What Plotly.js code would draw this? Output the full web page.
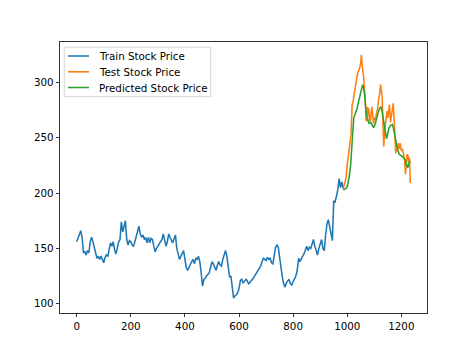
<!DOCTYPE html>
<html>
<head>
<meta charset="utf-8">
<script src="https://cdn.plot.ly/plotly-3.0.1.min.js"></script>
<style>html,body{margin:0;padding:0;background:#fff;}#chart{width:474px;height:352px;}</style>
</head>
<body>
<div id="chart"></div>
<script>
// Train series: values every 5 days from day 0 to 985
const trainStep = 5;
const trainValues = [
156,159,162,166,160,146,147,144,148,146,156,160,156,151,146,141,143,140,143,139,
137,142,144,143,150,155,152,156,149,145,150,156,158,174,165,170,175,158,153,157,
156,153,152,156,160,165,170,163,160,162,158,160,155,160,155,159,158,152,147,150,
152,154,155,158,163,157,152,156,163,160,158,155,159,162,150,145,140,143,146,148,
140,133,130,133,136,138,140,136,141,140,143,138,128,116,122,123,125,127,128,133,
138,136,132,130,135,138,135,134,140,145,148,143,130,124,125,115,105,107,108,110,
114,121,122,119,120,122,121,118,119,121,122,124,126,128,130,133,134,138,141,140,
139,142,140,141,137,136,145,151,153,151,142,132,124,118,115,119,121,122,118,117,
120,122,125,130,141,138,141,143,145,149,152,148,151,150,155,158,152,148,144,150,
155,158,150,148,162,172,176,170,166,157,193,192,197,203,213,205,210,204
];
const trainDays = trainValues.map((_, i) => i * trainStep);

const testDays = [985,990,995,1000,1005,1010,1014,1018,1022,1026,1030,1034,1038,1042,1046,1050,1052,1055,1058,1061,1064,1067,1070,1073,1076,1079,1082,1085,1088,1091,1094,1097,1100,1104,1108,1112,1116,1120,1123,1126,1129,1132,1135,1138,1141,1144,1147,1150,1153,1156,1160,1164,1167,1170,1173,1176,1179,1182,1185,1188,1192,1196,1200,1204,1208,1212,1215,1218,1221,1224,1227,1230,1233];
const testValues = [204,209,213,226,237,246,253,280,283,290,298,302,308,310,313,318,325,316,311,304,292,283,265,278,270,277,266,265,272,278,270,263,268,266,272,276,285,290,298,292,287,262,242,255,262,270,274,268,277,280,264,270,276,281,268,252,236,240,238,245,240,245,238,240,236,230,217,230,235,234,228,232,209];

const predDays = [985,995,1000,1006,1012,1018,1024,1030,1036,1042,1049,1054,1057,1061,1064,1068,1071,1076,1080,1086,1092,1098,1104,1110,1116,1121,1125,1130,1136,1141,1145,1150,1154,1160,1167,1173,1179,1185,1192,1198,1204,1210,1215,1220,1224,1228,1233];
const predValues = [203,204,206,213,224,248,268,272,276,283,291,296,298,294,289,277,270,266,263,264,261,259,263,269,274,277,278,272,263,254,249,254,259,261,262,256,248,240,235,234,233,231,230,225,223,227,229];

const xTicks = [0,200,400,600,800,1000,1200];
const yTicks = [100,150,200,250,300];
const seriesNames = ['Train Stock Price','Test Stock Price','Predicted Stock Price'];
const colors = ['#1f77b4','#ff7f0e','#2ca02c'];

const lw = 1.55;
const traces = [
  {x: trainDays, y: trainValues, name: seriesNames[0], mode:'lines', line:{color:colors[0], width:lw}},
  {x: testDays, y: testValues, name: seriesNames[1], mode:'lines', line:{color:colors[1], width:lw}},
  {x: predDays, y: predValues, name: seriesNames[2], mode:'lines', line:{color:colors[2], width:lw}}
];

const font = {family:'DejaVu Sans', size:10.3, color:'#000'};
const axisCommon = {
  showgrid:false, zeroline:false, showline:true, linecolor:'#000', linewidth:0.8, mirror:true,
  ticks:'outside', ticklen:3.6, tickwidth:0.8, tickcolor:'#000', tickfont:font
};

// Legend drawn matplotlib-style (compact spacing) in plot-area pixel geometry
const M = {l:60, r:47, t:42, b:39};
const W = 474, H = 352;
const pw = W - M.l - M.r, ph = H - M.t - M.b;
const px = v => (v - M.l) / pw;
const py = v => 1 - (v - M.t) / ph;
const shapes = [
  {type:'rect', xref:'paper', yref:'paper', x0:px(64.3), x1:px(210.7), y0:py(47.3), y1:py(96.7),
   line:{color:'#cccccc', width:0.8}, fillcolor:'rgba(255,255,255,0.8)', layer:'above'}
];
const annotations = [];
const rowY = [56, 71.8, 87.5];
seriesNames.forEach((name, i) => {
  shapes.push({type:'line', xref:'paper', yref:'paper', x0:px(68), x1:px(89), y0:py(rowY[i]), y1:py(rowY[i]),
    line:{color:colors[i], width:lw}, layer:'above'});
  annotations.push({xref:'paper', yref:'paper', x:px(96.5), y:py(rowY[i]), xanchor:'left', yanchor:'middle',
    text:name, showarrow:false, font:font});
});

const layout = {
  width:W, height:H,
  margin:{l:M.l, r:M.r, t:M.t, b:M.b, pad:0},
  paper_bgcolor:'#fff', plot_bgcolor:'#fff',
  font:font,
  showlegend:false,
  shapes:shapes,
  annotations:annotations,
  xaxis:Object.assign({}, axisCommon, {range:[-61.7, 1294.7], tickvals:xTicks, ticktext:xTicks.map(String)}),
  yaxis:Object.assign({}, axisCommon, {range:[91.6, 336.5], tickvals:yTicks, ticktext:yTicks.map(String)})
};
Plotly.newPlot('chart', traces, layout, {displayModeBar:false, staticPlot:true});
</script>
</body>
</html>
